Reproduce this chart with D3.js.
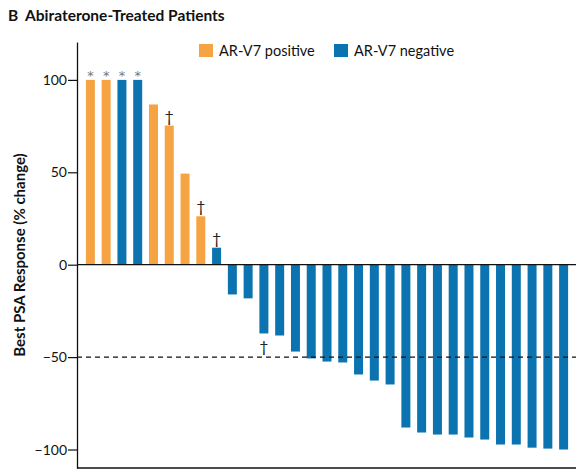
<!DOCTYPE html>
<html>
<head>
<meta charset="utf-8">
<script src="https://cdn.jsdelivr.net/npm/d3@7"></script>
<style>
  body { margin: 0; background: #fff; }
  svg { font-family: Lato, "Open Sans", sans-serif; }
</style>
</head>
<body>
<div class="chart"></div>
<script>
// best PSA response per patient, waterfall
var patients = d3.range(1, 32);
var responses = [100, 100, 100, 100, 86.7, 75.3, 49.3, 26.2, 9.2,
  -16.1, -18.2, -37.2, -38.3, -47, -50.7, -52.4, -52.9, -59.4, -62.7, -64.8,
  -88.1, -90.8, -91.9, -91.9, -93.5, -94.6, -97.3, -97.3, -99, -99.5, -100];
// AR-V7 result per patient (window.status is taken, so another name)
var arStatus = ["pos", "pos", "neg", "neg", "pos", "pos", "pos", "pos", "neg",
  "neg", "neg", "neg", "neg", "neg", "neg", "neg", "neg", "neg", "neg", "neg",
  "neg", "neg", "neg", "neg", "neg", "neg", "neg", "neg", "neg", "neg", "neg"];
var starPatients = [1, 2, 3, 4];
var daggerPatients = [6, 8, 9, 12];
var yTicks = [-100, -50, 0, 50, 100];
var legendLabels = ["AR-V7 positive", "AR-V7 negative"];

var width = 582, height = 476;
var color = {pos: "#F6A443", neg: "#0B73B0"};

var data = patients.map(function(p, i) {
  return {id: p, value: responses[i], status: arStatus[i]};
});

var x = d3.scaleBand()
    .domain(patients)
    .range([78, 576])
    .paddingInner(0.43)
    .paddingOuter(0.5);
var y = d3.scaleLinear().domain([-110, 120.5]).range([468, 42]);

var svg = d3.select(".chart").append("svg")
    .attr("width", width)
    .attr("height", height);

/* title */
var title = svg.append("text")
    .attr("x", 8).attr("y", 21)
    .attr("font-weight", "bold")
    .attr("font-size", 15.5)
    .attr("fill", "#111");
title.append("tspan").text("B");
title.append("tspan").attr("x", 25).text("Abiraterone-Treated Patients");

/* bars */
svg.append("g").selectAll("rect")
    .data(data)
  .enter().append("rect")
    .attr("x", function(d) { return x(d.id); })
    .attr("width", x.bandwidth())
    .attr("y", function(d) { return y(Math.max(0, d.value)); })
    .attr("height", function(d) { return Math.abs(y(d.value) - y(0)); })
    .attr("fill", function(d) { return color[d.status]; });

// zero line, -50 line and bottom line
svg.append("line")
    .attr("x1", 77).attr("x2", 576)
    .attr("y1", y(0)).attr("y2", y(0))
    .attr("stroke", "#111").attr("stroke-width", 1.3);
svg.append("line")
    .attr("x1", 77).attr("x2", 576)
    .attr("y1", y(-50)).attr("y2", y(-50))
    .attr("stroke", "#111").attr("stroke-width", 1.1)
    .attr("stroke-dasharray", "5,4");
svg.append("line")
    .attr("x1", 77).attr("x2", 576)
    .attr("y1", y(-110)).attr("y2", y(-110))
    .attr("stroke", "#111").attr("stroke-width", 1.3);

/* y axis */
var yAxis = svg.append("g")
    .attr("transform", "translate(77,0)")
    .call(d3.axisLeft(y).tickValues(yTicks).tickSize(9).tickSizeOuter(0));
yAxis.select(".domain").attr("stroke", "#111").attr("stroke-width", 1.3);
yAxis.selectAll(".tick line").attr("stroke", "#111").attr("stroke-width", 1.2);
yAxis.selectAll(".tick text")
    .attr("font-family", "Lato, 'Open Sans', sans-serif")
    .attr("font-size", 14)
    .attr("fill", "#111")
    .attr("x", -10);

svg.append("text")
    .attr("transform", "translate(25,255) rotate(-90)")
    .attr("text-anchor", "middle")
    .attr("font-weight", "bold")
    .attr("font-size", 15)
    .attr("fill", "#111")
    .text("Best PSA Response (% change)");

/* symbols */
var byId = function(id) { return data[id - 1]; };
svg.append("g").selectAll("text")
    .data(starPatients)
  .enter().append("text")
    .attr("x", function(p) { return x(p) + x.bandwidth() / 2; })
    .attr("y", function(p) { return y(byId(p).value) + 0.5; })
    .attr("text-anchor", "middle")
    .attr("font-family", "'DejaVu Sans', sans-serif")
    .attr("font-size", 13)
    .attr("fill", "#777")
    .text("*");

svg.append("g").selectAll("text")
    .data(daggerPatients)
  .enter().append("text")
    .attr("x", function(p) { return x(p) + x.bandwidth() / 2; })
    .attr("y", function(p) {
      var v = byId(p).value;
      return v >= 0 ? y(v) - 4 : y(v) + 19;
    })
    .attr("text-anchor", "middle")
    .attr("font-size", 16)
    .attr("fill", "#222")
    .text("\u2020");

/* legend */
var legend = svg.append("g").selectAll("g")
    .data(legendLabels)
  .enter().append("g")
    .attr("transform", function(d, i) { return "translate(" + (199 + i * 135) + ",44)"; });
legend.append("rect")
    .attr("width", 14).attr("height", 13)
    .attr("fill", function(d, i) { return i === 0 ? color.pos : color.neg; });
legend.append("text")
    .attr("x", 20).attr("y", 11.5)
    .attr("font-size", 14.5)
    .attr("fill", "#111")
    .text(function(d) { return d; });
</script>
</body>
</html>
